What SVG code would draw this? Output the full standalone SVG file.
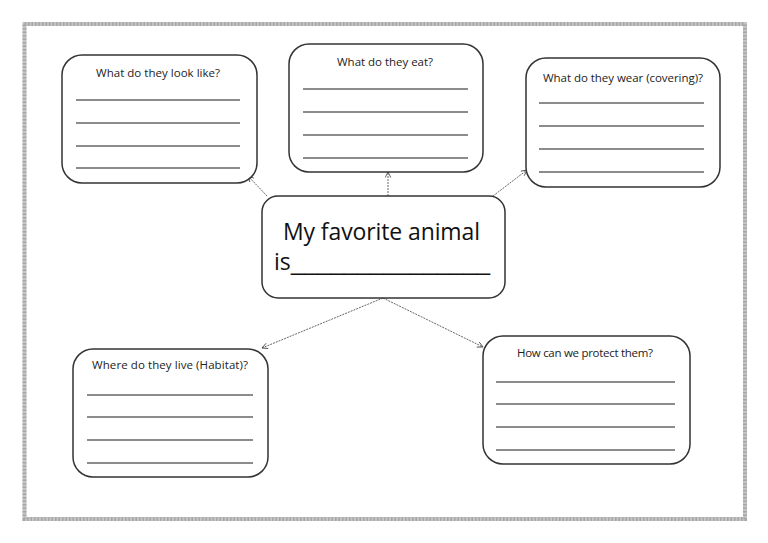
<svg xmlns="http://www.w3.org/2000/svg" width="768" height="543" viewBox="0 0 768 543">
<defs>
<style>
.box{fill:#fff;stroke:#333;stroke-width:1.5}
.ln{stroke:#1a1a1a;stroke-width:1.2}
.t{font-family:"Open Sans","Liberation Sans",sans-serif;font-size:11.5px;fill:#222;text-anchor:middle}
.big{font-family:"Open Sans","Liberation Sans",sans-serif;font-size:23px;fill:#111}
.us{font-family:"Liberation Sans",sans-serif}
.con{stroke:#555;stroke-width:0.9;stroke-dasharray:2 1;fill:none;marker-end:url(#arr)}
</style>
<marker id="arr" viewBox="0 0 10 10" refX="9" refY="5" markerWidth="7" markerHeight="7" orient="auto" markerUnits="userSpaceOnUse">
<path d="M1,1 L9,5 L1,9" fill="none" stroke="#444" stroke-width="1.2"/>
</marker>
</defs>
<rect width="768" height="543" fill="#fff"/>
<g id="border">
<rect x="24.5" y="24" width="720.5" height="495" fill="none" stroke="#c4c4c4" stroke-width="4"/>
<rect x="24.5" y="24" width="720.5" height="495" fill="none" stroke="#8a8a8a" stroke-width="4" stroke-dasharray="1.5 2" opacity="0.5"/>
</g>
<g id="connectors">
<line class="con" x1="267" y1="196" x2="248" y2="176"/>
<line class="con" x1="388" y1="196" x2="388" y2="172"/>
<line class="con" x1="493" y1="196" x2="527" y2="170"/>
<line class="con" x1="383" y1="298" x2="262" y2="348"/>
<line class="con" x1="383" y1="298" x2="483" y2="347"/>
</g>
<g id="n-look">
<rect class="box" x="62" y="55" width="195" height="128" rx="20"/>
<text class="t" x="158" y="77" textLength="124">What do they look like?</text>
<line class="ln" x1="76" y1="100" x2="240" y2="100"/>
<line class="ln" x1="76" y1="123" x2="240" y2="123"/>
<line class="ln" x1="76" y1="146" x2="240" y2="146"/>
<line class="ln" x1="76" y1="168" x2="240" y2="168"/>
</g>
<g id="n-eat">
<rect class="box" x="289" y="44" width="194" height="128" rx="20"/>
<text class="t" x="385" y="66" textLength="96">What do they eat?</text>
<line class="ln" x1="303" y1="89" x2="468" y2="89"/>
<line class="ln" x1="303" y1="112" x2="468" y2="112"/>
<line class="ln" x1="303" y1="135" x2="468" y2="135"/>
<line class="ln" x1="303" y1="158" x2="468" y2="158"/>
</g>
<g id="n-wear">
<rect class="box" x="526" y="58" width="194" height="129" rx="20"/>
<text class="t" x="623" y="82" textLength="160">What do they wear (covering)?</text>
<line class="ln" x1="539" y1="103" x2="704" y2="103"/>
<line class="ln" x1="539" y1="126" x2="704" y2="126"/>
<line class="ln" x1="539" y1="149" x2="704" y2="149"/>
<line class="ln" x1="539" y1="172" x2="704" y2="172"/>
</g>
<g id="n-center">
<rect class="box" x="262" y="196" width="243" height="102" rx="16"/>
<text class="big" x="283" y="240" textLength="197">My favorite animal</text>
<text class="big" x="274" y="270">is<tspan class="us" x="291" textLength="199" lengthAdjust="spacingAndGlyphs">_______________</tspan></text>
</g>
<g id="n-live">
<rect class="box" x="73" y="349" width="195" height="128" rx="20"/>
<text class="t" x="170" y="369" textLength="156">Where do they live (Habitat)?</text>
<line class="ln" x1="87" y1="395" x2="253" y2="395"/>
<line class="ln" x1="87" y1="417" x2="253" y2="417"/>
<line class="ln" x1="87" y1="440" x2="253" y2="440"/>
<line class="ln" x1="87" y1="463" x2="253" y2="463"/>
</g>
<g id="n-protect">
<rect class="box" x="483" y="336" width="207" height="128" rx="20"/>
<text class="t" x="585" y="357" textLength="136">How can we protect them?</text>
<line class="ln" x1="496" y1="382" x2="675" y2="382"/>
<line class="ln" x1="496" y1="404" x2="675" y2="404"/>
<line class="ln" x1="496" y1="427" x2="675" y2="427"/>
<line class="ln" x1="496" y1="450" x2="675" y2="450"/>
</g>
</svg>
